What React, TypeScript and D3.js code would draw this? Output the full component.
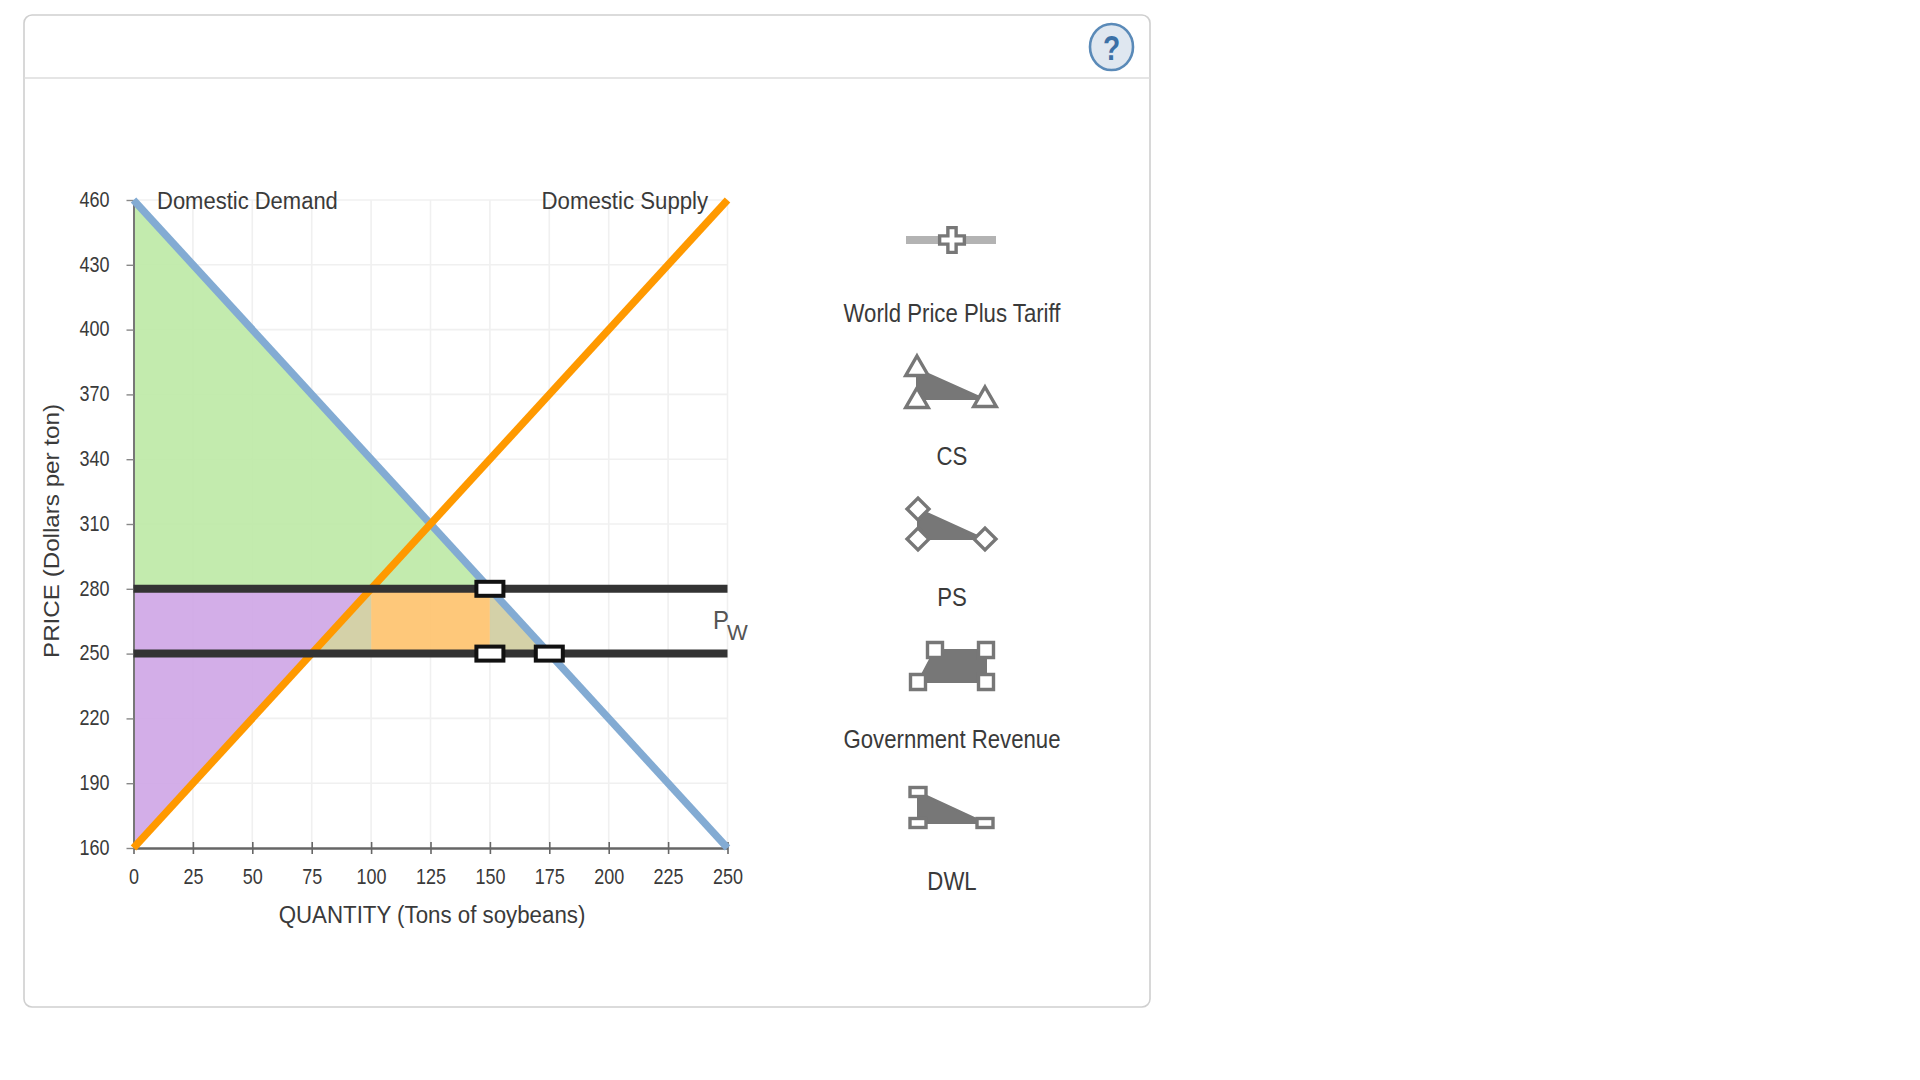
import React, { useEffect, useRef } from 'react';
import * as d3 from 'd3';

const xTicks = [0, 25, 50, 75, 100, 125, 150, 175, 200, 225, 250];
const yTicks = [160, 190, 220, 250, 280, 310, 340, 370, 400, 430, 460];

const demandQty = [0, 250];
const demandPrice = [460, 160];
const supplyQty = [0, 250];
const supplyPrice = [160, 460];

const priceLines = [280, 250];

// [quantity, price] corners of the shaded regions
const csArea = [[0, 460], [150, 280], [0, 280]];
const psArea = [[0, 160], [100, 280], [0, 280]];
const revenueArea = [[100, 250], [150, 250], [150, 280], [100, 280]];
const dwlLeft = [[75, 250], [100, 280], [100, 250]];
const dwlRight = [[150, 280], [175, 250], [150, 250]];

const handleQty = [150, 150, 175];
const handlePrice = [280, 250, 250];

const legendLabels = ['World Price Plus Tariff', 'CS', 'PS', 'Government Revenue', 'DWL'];
const legendBaselines = [321.5, 464.5, 605.5, 747.5, 889.5];

const FONT = '"Liberation Sans", Arial, sans-serif';
const TEXT = '#3a3a3a';
const ICON = '#777777';

const App: React.FC = () => {
  const svgRef = useRef<SVGSVGElement>(null);

  useEffect(() => {
    if (!svgRef.current) return;
    const svg = d3.select(svgRef.current);
    svg.selectAll('*').remove();

    const x = d3.scaleLinear().domain([0, 250]).range([133.5, 727.5]);
    const y = d3.scaleLinear().domain([160, 460]).range([848, 200]);
    const line = d3.line<number[]>().x(d => x(d[0])).y(d => y(d[1]));

    const label = (
      s: string, px: number, py: number, size: number, anchor = 'start', sy = 1.12, fill = TEXT,
    ) =>
      svg.append('text')
        .attr('transform', `translate(${px},${py}) scale(1,${sy})`)
        .attr('text-anchor', anchor)
        .attr('font-family', FONT)
        .attr('font-size', size)
        .attr('fill', fill)
        .text(s);

    // Card
    svg.append('rect').attr('x', 24).attr('y', 15).attr('width', 1126).attr('height', 992)
      .attr('rx', 8).attr('fill', '#fff').attr('stroke', '#cfcfcf').attr('stroke-width', 1.6);
    svg.append('line').attr('x1', 24).attr('x2', 1150).attr('y1', 78).attr('y2', 78)
      .attr('stroke', '#dddddd').attr('stroke-width', 1.6);

    // Help button
    svg.append('ellipse').attr('cx', 1111.5).attr('cy', 47).attr('rx', 21.5).attr('ry', 23)
      .attr('fill', '#dfe7f0').attr('stroke', '#5a8ab8').attr('stroke-width', 2.6);
    svg.append('text')
      .attr('transform', 'translate(1111.5,60) scale(0.88,1.1)')
      .attr('text-anchor', 'middle')
      .attr('font-family', FONT).attr('font-size', 32).attr('font-weight', 'bold')
      .attr('fill', '#3b70a6')
      .text('?');

    // Grid
    const grid = svg.append('g').attr('stroke', '#f0f0f0').attr('stroke-width', 1.6);
    xTicks.slice(1).forEach(t => {
      grid.append('line').attr('x1', x(t)).attr('x2', x(t)).attr('y1', y(460)).attr('y2', y(160));
    });
    yTicks.slice(1).forEach(t => {
      grid.append('line').attr('x1', x(0)).attr('x2', x(250)).attr('y1', y(t)).attr('y2', y(t));
    });

    // Shaded regions
    const area = (pts: number[][], fill: string) =>
      svg.append('path').attr('d', line(pts) + 'Z').attr('fill', fill).attr('opacity', 0.9);
    area(csArea, '#bde9a5');
    area(psArea, '#cea5e5');
    area(revenueArea, '#fec26b');
    area(dwlLeft, '#cfcc9e');
    area(dwlRight, '#cfcc9e');

    // Axes
    const xAxis = svg.append('g').attr('transform', `translate(0,${y(160)})`)
      .call(d3.axisBottom(x).tickValues(xTicks).tickSize(6).tickPadding(13).tickSizeOuter(0));
    xAxis.select('.domain').attr('stroke', '#666').attr('stroke-width', 2.4);
    xAxis.selectAll('.tick line').attr('stroke', '#666').attr('stroke-width', 1.6).attr('y1', -6);

    const yAxis = svg.append('g').attr('transform', `translate(${x(0)},0)`)
      .call(d3.axisLeft(y).tickValues(yTicks).tickSize(7).tickPadding(17).tickSizeOuter(0));
    yAxis.select('.domain').attr('stroke', '#777').attr('stroke-width', 2);
    yAxis.selectAll('.tick line').attr('stroke', '#888').attr('stroke-width', 1.4).attr('x2', -7);

    [xAxis, yAxis].forEach(a => {
      a.selectAll('.tick text')
        .attr('font-family', FONT).attr('font-size', 18).attr('fill', TEXT)
        .attr('transform', 'scale(1,1.2)');
    });
    xAxis.selectAll('.tick text').attr('y', 17.5);
    yAxis.selectAll('.tick text').attr('y', -0.5);

    // Demand and supply curves
    svg.append('path').attr('d', line(d3.zip(demandQty, demandPrice)))
      .attr('fill', 'none').attr('stroke', '#83abd3').attr('stroke-width', 7.5);
    svg.append('path').attr('d', line(d3.zip(supplyQty, supplyPrice)))
      .attr('fill', 'none').attr('stroke', '#ff9900').attr('stroke-width', 7.5);

    // Price lines
    priceLines.forEach(p => {
      svg.append('line').attr('x1', x(0)).attr('x2', x(250)).attr('y1', y(p)).attr('y2', y(p))
        .attr('stroke', '#333333').attr('stroke-width', 8);
    });

    // Handles
    handleQty.forEach((q, i) => {
      svg.append('rect')
        .attr('x', x(q) - 13.5).attr('y', y(handlePrice[i]) - 7)
        .attr('width', 27).attr('height', 14)
        .attr('fill', '#fff').attr('stroke', '#111').attr('stroke-width', 4);
    });

    // Chart text
    label('Domestic Demand', 157, 208.5, 22);
    label('Domestic Supply', 541.5, 208.5, 22, 'start').attr('transform', 'translate(541.5,208.5) scale(1.01,1.12)');
    label('P', 713, 629, 24, 'start', 1.05, '#555');
    label('W', 727, 640, 22, 'start', 1, '#555');
    label('QUANTITY (Tons of soybeans)', 432, 923, 22.3, 'middle', 1.08);
    svg.append('text')
      .attr('transform', 'translate(59,531) rotate(-90) scale(1.1,1)')
      .attr('text-anchor', 'middle')
      .attr('font-family', FONT).attr('font-size', 22).attr('fill', TEXT)
      .text('PRICE (Dollars per ton)');

    // Legend
    const legend = svg.append('g');
    legendLabels.forEach((s, i) => {
      label(s, 952, legendBaselines[i], 22.2, 'middle');
    });

    legend.append('line').attr('x1', 906).attr('x2', 996).attr('y1', 240).attr('y2', 240)
      .attr('stroke', '#b3b3b3').attr('stroke-width', 8);

    const marker = (type: d3.SymbolType, size: number, px: number, py: number, rot = 0) =>
      legend.append('path')
        .attr('d', d3.symbol().type(type).size(size)())
        .attr('transform', `translate(${px},${py}) rotate(${rot})`)
        .attr('fill', '#fff').attr('stroke', ICON).attr('stroke-width', 3.4);
    const glyph = (pts: number[][]) =>
      legend.append('path').attr('d', d3.line()(pts as [number, number][]) + 'Z')
        .attr('fill', ICON).attr('stroke', ICON).attr('stroke-width', 2);

    marker(d3.symbolCross, 340, 952, 240);

    glyph([[917, 369], [984, 399], [917, 399]]);
    [[917, 369], [917, 401], [985, 400]].forEach(p => marker(d3.symbolTriangle, 220, p[0], p[1]));

    glyph([[918, 509], [984, 539], [918, 539]]);
    [[918, 509], [918, 539], [985, 539]].forEach(p => marker(d3.symbolSquare, 240, p[0], p[1], 45));

    glyph([[935, 650], [986, 650], [986, 682], [918, 682]]);
    [[935, 650], [986, 650], [918, 682], [986, 682]].forEach(p => marker(d3.symbolSquare, 225, p[0], p[1]));

    glyph([[918, 792], [985, 823], [918, 823]]);
    [[918, 792], [918, 823], [985, 823]].forEach(p => {
      legend.append('rect').attr('x', p[0] - 8).attr('y', p[1] - 4.5).attr('width', 16).attr('height', 9)
        .attr('fill', '#fff').attr('stroke', ICON).attr('stroke-width', 3.4);
    });
  }, []);

  return (
    <svg
      ref={svgRef}
      width={1920}
      height={1080}
      style={{ position: 'absolute', left: 0, top: 0, background: '#fff' }}
    />
  );
};

export default App;
